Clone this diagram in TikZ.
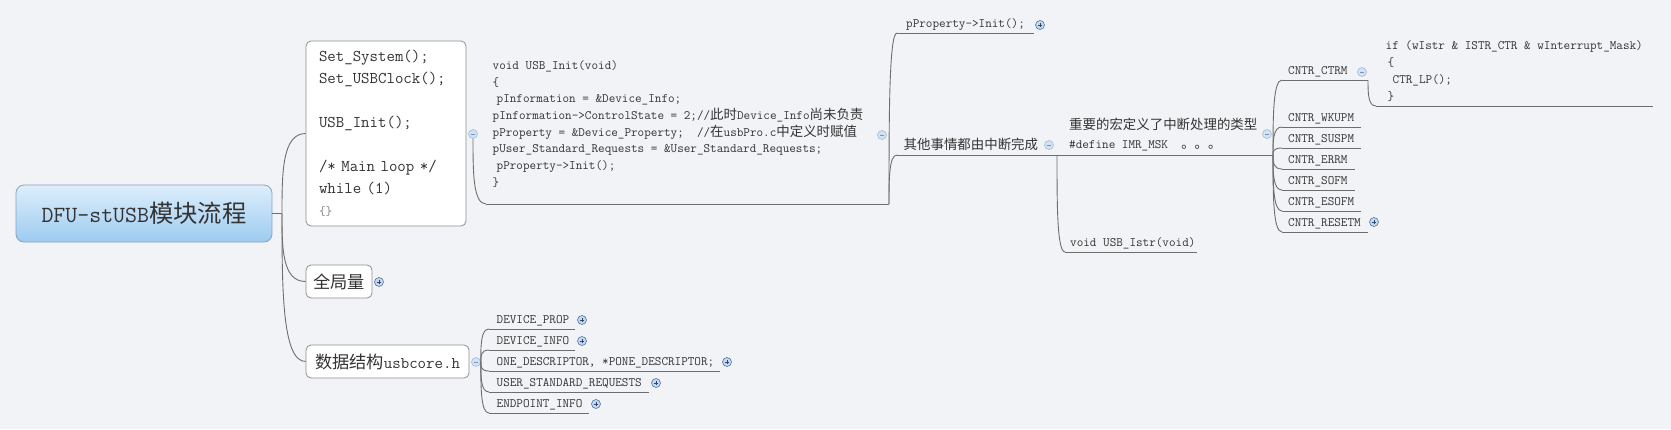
\documentclass[tikz,border=0pt]{standalone}
\usepackage{fontspec}
\renewcommand{\familydefault}{\ttdefault}
\newfontfamily\cjk{Noto Sans CJK SC}[Scale=1.05]
\usetikzlibrary{calc}
\definecolor{bgc}{HTML}{F1F3F6}
\definecolor{txt}{HTML}{333333}
\definecolor{linec}{HTML}{6E6E6E}
\definecolor{boxb}{HTML}{8E8E8E}
\definecolor{rtop}{HTML}{DDEEFB}
\definecolor{rbot}{HTML}{9DCBF1}
\definecolor{rbord}{HTML}{8AA3BC}
\definecolor{mfill}{HTML}{D2E2F3}
\definecolor{mdraw}{HTML}{A2BCD9}
\definecolor{msign}{HTML}{7894BC}
\definecolor{pfill}{HTML}{C4D8EE}
\definecolor{pdraw}{HTML}{54749F}
\definecolor{psign}{HTML}{2C4670}
\newcommand\myzh[1]{{\cjk #1}}
\newcommand\ULnode[6]{%
  \node[#2] (#1) at (#3,#4) {#6};
  \coordinate (#1-e) at ($(#1.south west)+(#5,0)$);
  \draw[lin] (#1.south west) -- (#1-e);}
\newcommand\xcurve[2]{\draw[lin] (#1) .. controls ($(#1)!0.5!(#1 |- #2)$) and (#1 |- #2) .. (#2);}
\tikzset{
  lin/.style={draw=linec, line width=0.9pt},
  ulbase/.style={anchor=south west, inner ysep=2.5pt, text=txt, align=left,
    font=\ttfamily\fontsize{12.8}{16.7}\selectfont},
  ultxt/.style={ulbase, text depth=2.5pt, text height=8pt},
  cbox/.style={draw=boxb, fill=white, rounded corners=5pt, line width=0.8pt, text=txt,
    font=\ttfamily\fontsize{16.4}{22}\selectfont},
  rootbox/.style={draw=rbord, top color=rtop, bottom color=rbot, rounded corners=8pt,
    line width=0.8pt, text=txt, font=\ttfamily\fontsize{23.2}{26}\selectfont,
    minimum width=256pt, minimum height=57pt, inner sep=0pt},
  mk/.style={circle, minimum size=9pt, inner sep=0pt, line width=0.6pt},
  mminus/.style={mk, fill=mfill, draw=mdraw, path picture={\draw[msign, line width=0.9pt]
    ([xshift=2.3pt]path picture bounding box.west) -- ([xshift=-2.3pt]path picture bounding box.east);}},
  mplus/.style={mk, fill=pfill, draw=pdraw, path picture={\draw[psign, line width=0.9pt]
    ([xshift=2.3pt]path picture bounding box.west) -- ([xshift=-2.3pt]path picture bounding box.east)
    ([yshift=-2.3pt]path picture bounding box.north) -- ([yshift=2.3pt]path picture bounding box.south);}},
}
\begin{document}
\begin{tikzpicture}[x=1pt,y=-1pt]
\fill[bgc] (0,0) rectangle (1671,429);
\useasboundingbox (0,0) rectangle (1671,429);

% root and first level
\node[rootbox] (root) at (144,213.5) {DFU-stUSB\myzh{模块流程}};
\node[cbox, minimum width=160pt, minimum height=185pt, text width=134pt, inner xsep=13pt, align=left] (c1) at (386,133.5)
  {Set\_System();\\Set\_USBClock();\\\mbox{}\\USB\_Init();\\\mbox{}\\/* Main loop */\\while (1)\\{\fontsize{13}{22}\selectfont\color{gray}\{\}}};
\node[cbox, minimum width=66pt, minimum height=33pt, inner sep=0pt] (c2) at (339,281.5) {\myzh{全局量}};
\node[cbox, minimum width=163pt, minimum height=33pt, inner sep=0pt] (c3) at (387.5,361.5) {\myzh{数据结构}usbcore.h};
\coordinate (j0) at (282,213.5);
\draw[lin] (root.east) -- (j0);
\xcurve{j0}{c1.west}
\xcurve{j0}{c2.west}
\xcurve{j0}{c3.west}
\node[mminus] (m1) at (473,134) {};
\node[mplus] (m8) at (379,282) {};
\node[mminus] (m9) at (476,362) {};

% USB_Init code
\ULnode{code}{ulbase, inner xsep=6.5pt, inner ysep=16.5pt}{486}{204}{403}{void USB\_Init(void)\\
\{\\
\hspace{4pt}pInformation = \&Device\_Info;\\
pInformation->ControlState = 2;//\myzh{此时}Device\_Info\myzh{尚未负责}\\
pProperty = \&Device\_Property;\ \ //\myzh{在}usbPro.c\myzh{中定义时赋值}\\
pUser\_Standard\_Requests = \&User\_Standard\_Requests;\\
\hspace{4pt}pProperty->Init();\\
\}}
\xcurve{m1.south}{code.south west}
\node[mminus] (m2) at (882,135) {};

% next level
\ULnode{pprop}{ultxt, inner xsep=9pt}{897}{33}{137}{pProperty->Init();}
\ULnode{other}{ultxt, inner xsep=6.5pt}{897}{155}{160}{\myzh{其他事情都由中断完成}}
\xcurve{code-e}{pprop.south west}
\xcurve{code-e}{other.south west}
\node[mplus] (m3) at (1040,25) {};
\node[mminus] (m4) at (1049,145) {};

\ULnode{imr}{ulbase, inner xsep=12pt, inner ysep=4pt, font=\ttfamily\fontsize{12.8}{18.5}\selectfont}{1057}{155}{216}{\myzh{重要的宏定义了中断处理的类型}\\\#define IMR\_MSK\ \ \myzh{。。。}}
\draw[lin] (other-e) -- (imr.south west);
\ULnode{istr}{ultxt, inner xsep=5pt}{1065}{252}{132}{void USB\_Istr(void)}
\xcurve{other-e}{istr.south west}
\node[mminus] (m5) at (1267,134) {};

% CNTR list
\ULnode{ctrm}{ultxt, inner xsep=6pt}{1282}{80}{86}{CNTR\_CTRM}
\ULnode{wkupm}{ultxt, inner xsep=6pt}{1282}{127}{79}{CNTR\_WKUPM}
\ULnode{suspm}{ultxt, inner xsep=6pt}{1282}{148}{79}{CNTR\_SUSPM}
\ULnode{errm}{ultxt, inner xsep=6pt}{1282}{169}{73}{CNTR\_ERRM}
\ULnode{sofm}{ultxt, inner xsep=6pt}{1282}{190}{73}{CNTR\_SOFM}
\ULnode{esofm}{ultxt, inner xsep=6pt}{1282}{211}{79}{CNTR\_ESOFM}
\ULnode{resetm}{ultxt, inner xsep=6pt}{1282}{232}{86}{CNTR\_RESETM}
\foreach \n in {ctrm,wkupm,suspm,errm,sofm,esofm,resetm} {\xcurve{imr-e}{\n.south west}}
\node[mminus] (m6) at (1362,72) {};
\node[mplus] (m7) at (1374,222) {};

\ULnode{ifc}{ulbase, inner xsep=9.5pt, inner ysep=3.8pt, font=\ttfamily\fontsize{12.8}{17}\selectfont}{1376}{106}{277}{if (wIstr \& ISTR\_CTR \& wInterrupt\_Mask)\\\hspace{2pt}\{\\\hspace{7pt}CTR\_LP();\\\hspace{2pt}\}}
\xcurve{ctrm-e}{ifc.south west}

% data structures
\ULnode{devprop}{ultxt, inner xsep=7.5pt}{489}{329}{86}{DEVICE\_PROP}
\ULnode{devinfo}{ultxt, inner xsep=7.5pt}{489}{350}{86}{DEVICE\_INFO}
\ULnode{onedesc}{ultxt, inner xsep=7.5pt}{489}{371}{231}{ONE\_DESCRIPTOR, *PONE\_DESCRIPTOR;}
\ULnode{userstd}{ultxt, inner xsep=7.5pt}{489}{392}{160}{USER\_STANDARD\_REQUESTS}
\ULnode{endpoint}{ultxt, inner xsep=7.5pt}{489}{413}{100}{ENDPOINT\_INFO}
\foreach \n in {devprop,devinfo,onedesc,userstd,endpoint} {\xcurve{m9.east}{\n.south west}}
\node[mplus] (m10) at (582,320) {};
\node[mplus] (m11) at (582,341) {};
\node[mplus] (m12) at (727,362) {};
\node[mplus] (m13) at (656,383) {};
\node[mplus] (m14) at (596,404) {};
\end{tikzpicture}
\end{document}
